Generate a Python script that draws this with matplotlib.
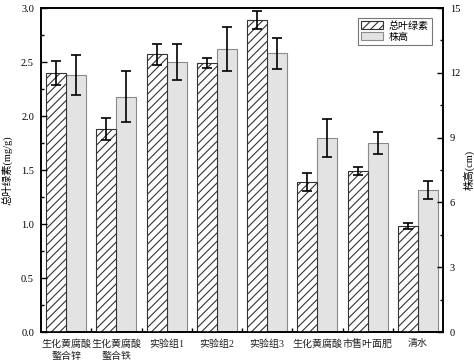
import numpy as np
import matplotlib.pyplot as plt
from matplotlib.ticker import MultipleLocator

plt.rcParams['font.family'] = ['Liberation Serif', 'Noto Sans CJK SC']
plt.rcParams['hatch.linewidth'] = 0.8

categories = ['生化黄腐酸\n螯合锌', '生化黄腐酸\n螯合铁', '实验组1', '实验组2',
              '实验组3', '生化黄腐酸', '市售叶面肥', '清水']
chlorophyll = [2.40, 1.88, 2.57, 2.49, 2.89, 1.39, 1.49, 0.98]
chlorophyll_err = [0.11, 0.10, 0.10, 0.05, 0.08, 0.08, 0.04, 0.03]
height = [11.9, 10.9, 12.5, 13.1, 12.9, 9.0, 8.75, 6.57]
height_err = [0.93, 1.2, 0.83, 1.0, 0.73, 0.88, 0.5, 0.43]

x = np.arange(len(categories))
w = 0.4

fig = plt.figure(figsize=(4.74, 3.64), dpi=100)
ax = fig.add_axes([41 / 474, 32 / 364, 402 / 474, 324 / 364])
ax2 = ax.twinx()

b1 = ax.bar(x - w / 2, chlorophyll, w, facecolor='white', edgecolor='#333333',
            hatch='////', linewidth=0.8, label='总叶绿素')
ax.errorbar(x - w / 2, chlorophyll, yerr=chlorophyll_err, fmt='none',
            ecolor='black', elinewidth=1.2, capsize=3.5, capthick=1.2)

b2 = ax2.bar(x + w / 2, height, w, facecolor='#e3e3e3', edgecolor='#8a8a8a',
             linewidth=0.8, label='株高')
ax2.errorbar(x + w / 2, height, yerr=height_err, fmt='none',
             ecolor='black', elinewidth=1.2, capsize=3.5, capthick=1.2)

ax.set_xlim(-0.5, 7.5)
ax.set_ylim(0, 3)
ax2.set_ylim(0, 15)

ax.set_xticks(x)
ax.set_xticklabels(categories, fontsize=7.2, linespacing=1.35, color='#222222')
ax.set_xticks(x[:-1] + 0.5, minor=True)
ax.tick_params(axis='x', which='major', length=0, pad=5)
ax.tick_params(axis='x', which='minor', length=3, direction='in', width=1)

ax.yaxis.set_major_locator(MultipleLocator(0.5))
ax.yaxis.set_minor_locator(MultipleLocator(0.25))
ax.tick_params(axis='y', which='major', direction='in', length=4, width=1,
               labelsize=7.5, pad=5)
ax.tick_params(axis='y', which='minor', direction='in', length=2.5, width=1)

ax2.yaxis.set_major_locator(MultipleLocator(3))
ax2.yaxis.set_minor_locator(MultipleLocator(1.5))
ax2.tick_params(axis='y', which='major', direction='in', length=4, width=1,
                labelsize=7.5, pad=5)
ax2.tick_params(axis='y', which='minor', direction='in', length=2.5, width=1)

ax.set_ylabel('总叶绿素(mg/g)', fontsize=7.5)
ax.yaxis.set_label_coords(-0.07, 0.5)
ax2.set_ylabel('株高(cm)', fontsize=7.5, rotation=90)
ax2.yaxis.set_label_coords(1.05, 0.5)

for a in (ax, ax2):
    for s in a.spines.values():
        s.set_linewidth(1.2)

leg = ax.legend([b1, b2], ['总叶绿素', '株高'], loc='upper right', fontsize=7.2,
                frameon=True, fancybox=False, edgecolor='#555555',
                handlelength=2.2, handleheight=0.9, borderpad=0.3,
                labelspacing=0.15, handletextpad=0.6,
                bbox_to_anchor=(0.985, 0.985))
leg.get_frame().set_linewidth(0.8)
ax.set_zorder(ax2.get_zorder() + 1)
ax.patch.set_visible(False)

fig.savefig('out.png', dpi=100)
